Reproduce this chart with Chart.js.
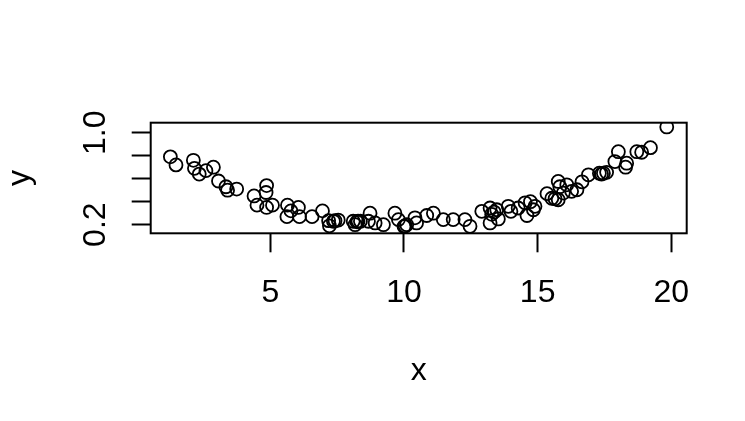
<!DOCTYPE html>
<html>
<head>
<meta charset="utf-8">
<script src="https://cdn.jsdelivr.net/npm/chart.js@4/dist/chart.umd.min.js"></script>
<style>
html,body{margin:0;padding:0;background:#fff;}
#wrap{width:745px;height:421px;}
</style>
</head>
<body>
<div id="wrap"><canvas id="c" width="745" height="421"></canvas></div>
<script>
const xVals = [1.26,1.47,2.12,2.16,2.34,2.59,2.87,3.06,3.34,3.40,
  3.74,4.39,4.50,4.86,4.84,4.86,5.08,5.64,5.62,5.77,
  6.05,6.09,6.56,6.95,7.21,7.36,7.54,7.42,7.18,8.10,
  8.17,8.24,8.28,8.37,8.73,8.67,8.92,9.23,9.66,9.79,
  10.04,10.10,10.00,10.41,10.47,10.85,11.10,11.47,11.84,12.28,
  12.47,12.91,13.22,13.28,13.47,13.22,13.53,13.37,13.90,14.00,
  14.27,14.53,14.60,14.73,14.84,14.90,15.35,15.53,15.65,15.77,
  15.77,15.83,16.09,15.96,16.27,16.47,16.66,16.90,17.31,17.46,
  17.58,17.39,17.89,18.02,18.33,18.29,18.71,18.89,19.22,19.83];
const yVals = [0.79,0.72,0.76,0.69,0.64,0.67,0.70,0.58,0.53,0.50,
  0.51,0.45,0.37,0.54,0.48,0.35,0.37,0.37,0.27,0.32,
  0.35,0.27,0.27,0.32,0.19,0.23,0.24,0.235,0.235,0.23,
  0.20,0.225,0.23,0.23,0.30,0.23,0.215,0.20,0.30,0.244,
  0.188,0.20,0.185,0.26,0.215,0.28,0.30,0.244,0.244,0.244,
  0.186,0.316,0.345,0.29,0.33,0.215,0.25,0.31,0.36,0.316,
  0.345,0.39,0.28,0.40,0.33,0.36,0.47,0.43,0.425,0.417,
  0.576,0.53,0.547,0.475,0.49,0.504,0.573,0.634,0.648,0.648,
  0.655,0.64,0.749,0.835,0.735,0.70,0.835,0.83,0.87,1.05];
const xTicks = [5,10,15,20];
const xTickLabels = ['5','10','15','20'];
const yTicks = [0.2,0.4,0.6,0.8,1.0];
const yTickLabels = ['0.2','','','','1.0'];
const xTitle = 'x';
const yTitle = 'y';

const FONT = '"Liberation Sans", Arial, sans-serif';
const points = xVals.map((x,i)=>({x:x, y:yVals[i]}));

const boxPlugin = {
  id:'box',
  afterDraw(chart){
    const a = chart.chartArea, ctx = chart.ctx;
    ctx.save();
    ctx.strokeStyle = '#000';
    ctx.lineWidth = 2;
    ctx.strokeRect(a.left, a.top, a.right-a.left, a.bottom-a.top);
    ctx.restore();
  }
};

new Chart(document.getElementById('c'), {
  type:'scatter',
  data:{datasets:[{
    data:points,
    pointStyle:'circle',
    radius:6.5,
    pointRadius:6.5,
    pointHoverRadius:6.5,
    borderColor:'#000',
    backgroundColor:'rgba(0,0,0,0)',
    borderWidth:1.8
  }]},
  options:{
    responsive:false,
    animation:false,
    events:[],
    layout:{padding:{top:122.7,right:58.3,left:0,bottom:0}},
    elements:{point:{radius:6.5,borderWidth:1.8}},
    plugins:{legend:{display:false},tooltip:{enabled:false}},
    scales:{
      x:{
        type:'linear', min:0.524, max:20.576,
        afterBuildTicks:s=>{ s.ticks = xTicks.map(v=>({value:v})); },
        afterFit:s=>{ s.height = 421-233.3; },
        grid:{drawOnChartArea:false, drawTicks:true, tickLength:19, tickWidth:2, tickColor:'#000'},
        border:{display:false},
        ticks:{color:'#000', font:{family:FONT,size:32}, padding:21.5, maxRotation:0, minRotation:0, autoSkip:false,
          callback:(v,i)=>xTickLabels[i]},
        title:{display:true, text:xTitle, color:'#000', font:{family:FONT,size:32,lineHeight:1.2}, padding:{top:0,bottom:30.5}}
      },
      y:{
        type:'linear', min:0.125, max:1.087,
        afterBuildTicks:s=>{ s.ticks = yTicks.map(v=>({value:v})); },
        afterFit:s=>{ s.width = 150.7; },
        grid:{drawOnChartArea:false, drawTicks:true, tickLength:19, tickWidth:2, tickColor:'#000'},
        border:{display:false},
        ticks:{color:'#000', font:{family:FONT,size:32}, padding:13, minRotation:90, maxRotation:90, autoSkip:false,
          crossAlign:'center', callback:(v,i)=>yTickLabels[i]},
        title:{display:true, text:yTitle, color:'#000', font:{family:FONT,size:32,lineHeight:1}, padding:{top:4.2,bottom:0}}
      }
    }
  },
  plugins:[boxPlugin]
});
</script>
</body>
</html>
